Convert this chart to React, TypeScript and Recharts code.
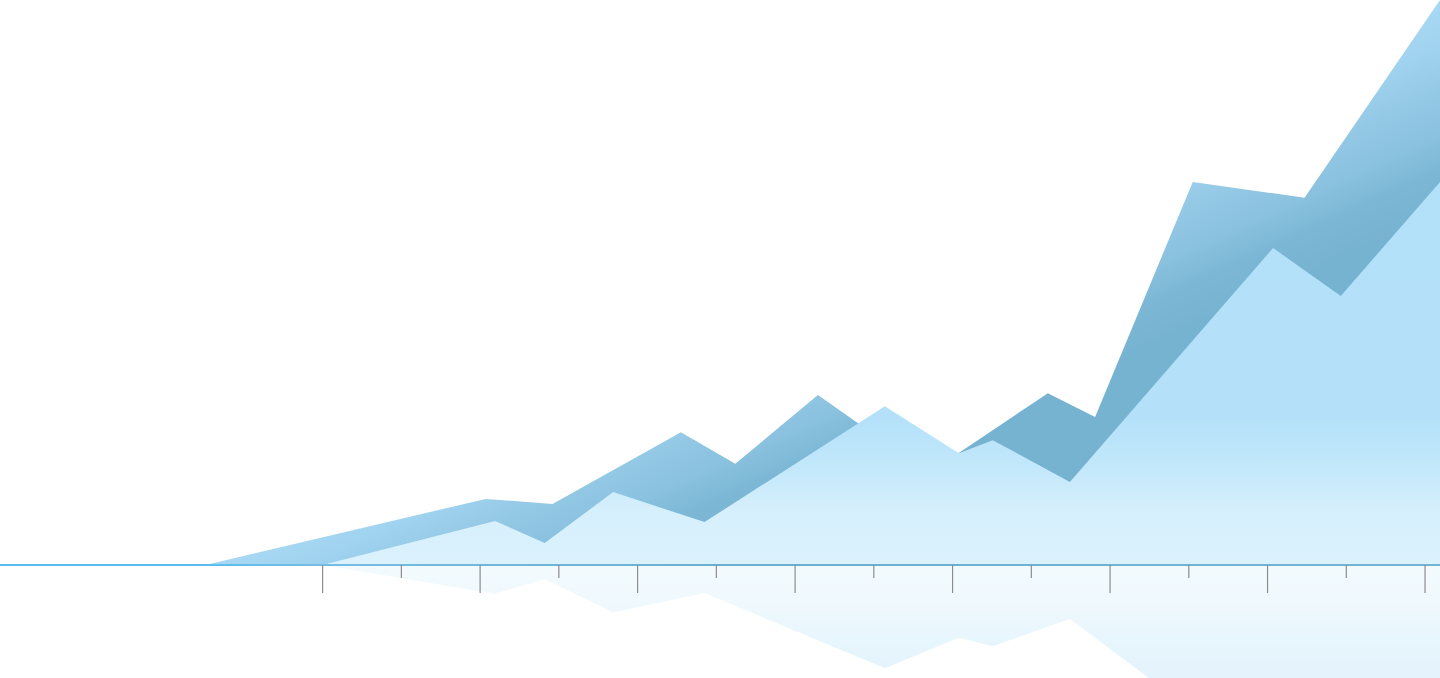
import React from "react";
import { AreaChart, Area, XAxis, YAxis } from "recharts";

// x in tick units (tick 0 = first tick mark), y in % of chart height
const darkX = [-1.49, 2.07, 2.92, 4.55, 5.24, 6.29, 7.7, 9.21, 9.81, 11.05, 12.47, 14.19];
const darkY = [0, 11.7, 10.8, 23.5, 17.9, 30.1, 16.3, 30.4, 26.2, 67.8, 65.0, 100];

const lightX = [0, 2.19, 2.82, 3.69, 4.85, 7.14, 8.08, 8.51, 9.49, 12.07, 12.93, 14.19];
const lightY = [0, 7.8, 3.9, 12.9, 7.6, 28.1, 19.8, 22.1, 14.7, 56.1, 47.6, 67.8];

const tickVals = [0, 1, 2, 3, 4, 5, 6, 7, 8, 9, 10, 11, 12, 13, 14];

const xDomain: [number, number] = [-4.097, 14.19];

type Row = { u: number; dark: number | null; light: number | null };

function buildRows(): Row[] {
  const map = new Map<number, Row>();
  darkX.forEach((u, i) => {
    const r = map.get(u) ?? { u, dark: null, light: null };
    r.dark = darkY[i];
    map.set(u, r);
  });
  lightX.forEach((u, i) => {
    const r = map.get(u) ?? { u, dark: null, light: null };
    r.light = lightY[i];
    map.set(u, r);
  });
  return Array.from(map.values()).sort((a, b) => a.u - b.u);
}

const rows = buildRows();
const lightRows = lightX.map((u, i) => ({ u, light: lightY[i] }));

const W = 1440;
const H = 678;
const BASE = 565;

const TickMark = (props: { x?: number; y?: number; index?: number }) => {
  const { x = 0, y = 0, index = 0 } = props;
  const len = index % 2 === 0 ? 28 : 13;
  return <line x1={x} x2={x} y1={y} y2={y + len} stroke="#8c8c8c" strokeWidth={1.2} />;
};

const LightDefs = ({ id }: { id: string }) => (
  <linearGradient id={id} gradientUnits="userSpaceOnUse" x1="0" y1="0" x2="0" y2={BASE}>
    <stop offset="0%" stopColor="#b2e0f9" />
    <stop offset="74%" stopColor="#b4e1f9" />
    <stop offset="83%" stopColor="#c3e8fb" />
    <stop offset="90%" stopColor="#d5effc" />
    <stop offset="100%" stopColor="#dbf2fd" />
  </linearGradient>
);

export default function App() {
  return (
    <div style={{ position: "absolute", left: 0, top: 0, width: W, height: H, overflow: "hidden", background: "#fff" }}>
      {/* reflection */}
      <div
        style={{
          position: "absolute",
          left: 0,
          top: 0,
          width: W,
          height: BASE,
          transformOrigin: "50% 100%",
          transform: "scaleY(-0.65)",
          opacity: 0.34,
        }}
      >
        <AreaChart width={W} height={BASE} data={lightRows} margin={{ top: 0, right: 0, bottom: 0, left: 0 }}>
          <defs>
            <LightDefs id="lightGradRefl" />
          </defs>
          <XAxis dataKey="u" type="number" domain={xDomain} allowDataOverflow hide />
          <YAxis type="number" domain={[0, 100]} allowDataOverflow hide />
          <Area
            type="linear"
            dataKey="light"
            stroke="none"
            fill="url(#lightGradRefl)"
            fillOpacity={1}
            dot={false}
            activeDot={false}
            isAnimationActive={false}
          />
        </AreaChart>
      </div>

      {/* main chart */}
      <div style={{ position: "absolute", left: 0, top: 0, width: W, height: H }}>
        <AreaChart width={W} height={H} data={rows} margin={{ top: 0, right: 0, bottom: 0, left: 0 }}>
          <defs>
            <linearGradient id="darkGrad" x1="0" y1="0" x2="1" y2="1">
              <stop offset="0%" stopColor="#abdbf6" />
              <stop offset="50%" stopColor="#a9d9f4" />
              <stop offset="54%" stopColor="#a0d3ef" />
              <stop offset="57%" stopColor="#97cbe8" />
              <stop offset="60%" stopColor="#8fc5e2" />
              <stop offset="62%" stopColor="#89c1de" />
              <stop offset="65%" stopColor="#7cb8d6" />
              <stop offset="69%" stopColor="#76b3d1" />
              <stop offset="100%" stopColor="#75b2d0" />
            </linearGradient>
            <LightDefs id="lightGrad" />
            <linearGradient id="axisGrad" gradientUnits="userSpaceOnUse" x1="0" y1="0" x2={W} y2="0">
              <stop offset="0%" stopColor="#5bbcf0" />
              <stop offset="14%" stopColor="#5bbcf0" />
              <stop offset="22%" stopColor="#74bde4" />
              <stop offset="50%" stopColor="#6aafd2" />
              <stop offset="100%" stopColor="#70b3d5" />
            </linearGradient>
          </defs>
          <XAxis
            dataKey="u"
            type="number"
            domain={xDomain}
            allowDataOverflow
            ticks={tickVals}
            interval={0}
            height={H - BASE}
            tickSize={0}
            tickMargin={0}
            tickLine={false}
            tick={<TickMark />}
            axisLine={{ stroke: "url(#axisGrad)", strokeWidth: 2 }}
          />
          <YAxis type="number" domain={[0, 100]} allowDataOverflow hide />
          <Area
            type="linear"
            dataKey="dark"
            connectNulls
            stroke="none"
            fill="url(#darkGrad)"
            fillOpacity={1}
            dot={false}
            activeDot={false}
            isAnimationActive={false}
          />
          <Area
            type="linear"
            dataKey="light"
            connectNulls
            stroke="none"
            fill="url(#lightGrad)"
            fillOpacity={1}
            dot={false}
            activeDot={false}
            isAnimationActive={false}
          />
        </AreaChart>
      </div>
    </div>
  );
}
